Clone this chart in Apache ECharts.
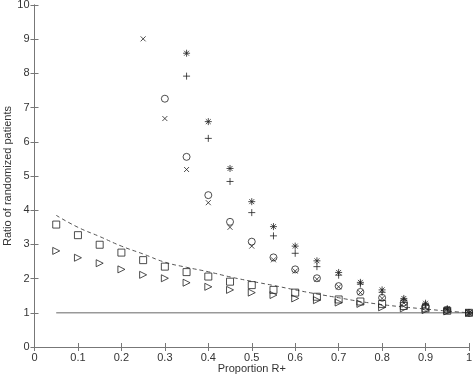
<!DOCTYPE html>
<html lang="en">
<head>
<meta charset="UTF-8">
<title>Ratio of randomized patients</title>
<script src="https://cdn.jsdelivr.net/npm/echarts@6/dist/echarts.min.js"></script>
<style>
  html, body { margin: 0; padding: 0; background: #fff; }
  #main { width: 474px; height: 377px; }
</style>
</head>
<body>
<div id="main"></div>
<script>
// proportion R+ values used by each series
const pAll = [0.05, 0.1, 0.15, 0.2, 0.25, 0.3, 0.35, 0.4, 0.45, 0.5,
              0.55, 0.6, 0.65, 0.7, 0.75, 0.8, 0.85, 0.9, 0.95, 1];
const pStar = [0.35, 0.4, 0.45, 0.5, 0.55, 0.6, 0.65, 0.7, 0.75, 0.8, 0.85, 0.9, 0.95, 1];
const pCircle = [0.3, 0.35, 0.4, 0.45, 0.5, 0.55, 0.6, 0.65, 0.7, 0.75, 0.8, 0.85, 0.9, 0.95, 1];
const pCross = [0.25, 0.3, 0.35, 0.4, 0.45, 0.5, 0.55, 0.6, 0.65, 0.7, 0.75, 0.8, 0.85, 0.9, 0.95, 1];

const starVals = [8.59, 6.59, 5.22, 4.25, 3.52, 2.95, 2.52, 2.18, 1.89, 1.67, 1.42, 1.28, 1.12, 1];
const plusVals = [7.92, 6.10, 4.84, 3.93, 3.25, 2.74, 2.35, 2.10, 1.84, 1.60, 1.37, 1.23, 1.10, 1];
const circleVals = [7.26, 5.56, 4.44, 3.66, 3.08, 2.62, 2.27, 2.01, 1.78, 1.61, 1.44, 1.30, 1.18, 1.08, 1];
const crossVals = [9.01, 6.68, 5.19, 4.22, 3.50, 2.95, 2.55, 2.22, 1.98, 1.76, 1.59, 1.42, 1.29, 1.17, 1.08, 1];
const squareVals = [3.58, 3.27, 2.99, 2.76, 2.54, 2.35, 2.19, 2.06, 1.91, 1.81,
                    1.67, 1.59, 1.47, 1.39, 1.33, 1.26, 1.20, 1.13, 1.06, 1];
const triVals = [2.81, 2.61, 2.45, 2.27, 2.11, 2.01, 1.88, 1.76, 1.67, 1.59,
                 1.52, 1.42, 1.37, 1.30, 1.26, 1.16, 1.13, 1.08, 1.04, 1];
const dashVals = [3.85, 3.50, 3.23, 2.95, 2.72, 2.48, 2.33, 2.20, 2.05, 1.92,
                  1.80, 1.67, 1.55, 1.44, 1.33, 1.24, 1.17, 1.11, 1.05, 1];
const refLine = [[0.05, 1], [1, 1]];

const xTicks = [0, 0.1, 0.2, 0.3, 0.4, 0.5, 0.6, 0.7, 0.8, 0.9, 1];
const yTicks = [0, 1, 2, 3, 4, 5, 6, 7, 8, 9, 10];

const zip = (xs, ys) => xs.map((x, i) => [x, ys[i]]);

const SYM = {
  plus: 'path://M5,0 L5,10 M0,5 L10,5',
  cross: 'path://M0,0 L10,10 M10,0 L0,10',
  star: 'path://M5,0 L5,10 M0,5 L10,5 M1.5,1.5 L8.5,8.5 M8.5,1.5 L1.5,8.5',
  triRight: 'path://M0,0 L10,5 L0,10 Z'
};

const font = 'Liberation Sans, Arial, sans-serif';
const axisCol = '#777';
const txtCol = '#333';

function marker(name, data, symbol, size) {
  return {
    name: name,
    type: 'scatter',
    data: data,
    symbol: symbol,
    symbolSize: size,
    itemStyle: { color: 'rgba(0,0,0,0)', borderColor: '#222', borderWidth: 1 },
    z: 3
  };
}

const chart = echarts.init(document.getElementById('main'));
chart.setOption({
  animation: false,
  backgroundColor: '#fff',
  grid: { left: 34.5, right: 5, top: 5, bottom: 30, containLabel: false, outerBoundsMode: 'none' },
  xAxis: [{
    type: 'value', min: 0, max: 1, interval: 0.1,
    name: 'Proportion R+', nameLocation: 'middle', nameGap: 16, nameMoveOverlap: false,
    nameTextStyle: { fontFamily: font, fontSize: 11, color: txtCol, verticalAlign: 'top' },
    axisLine: { lineStyle: { color: axisCol } },
    axisTick: { inside: true, length: 4, lineStyle: { color: axisCol } },
    axisLabel: { fontFamily: font, fontSize: 11, color: txtCol, margin: 5,
                 formatter: v => xTicks.includes(+v.toFixed(1)) ? String(+v.toFixed(1)) : '' },
    splitLine: { show: false }
  }, {
    type: 'value', min: 0, max: 1, interval: 0.1, position: 'top',
    axisLine: { show: true, lineStyle: { color: axisCol } },
    axisTick: { inside: true, length: 4, lineStyle: { color: axisCol } },
    axisLabel: { show: false }, splitLine: { show: false }
  }],
  yAxis: [{
    type: 'value', min: 0, max: 10, interval: 1,
    name: 'Ratio of randomized patients', nameLocation: 'middle', nameGap: 21, nameMoveOverlap: false,
    nameTextStyle: { fontFamily: font, fontSize: 11, color: txtCol },
    axisLine: { show: true, lineStyle: { color: axisCol } },
    axisTick: { show: true, inside: true, length: 4, lineStyle: { color: axisCol } },
    axisLabel: { fontFamily: font, fontSize: 11, color: txtCol, margin: 5,
                 formatter: v => yTicks.includes(v) ? String(v) : '' },
    splitLine: { show: false }
  }, {
    type: 'value', min: 0, max: 10, interval: 1, position: 'right',
    axisLine: { show: true, lineStyle: { color: axisCol } },
    axisTick: { show: true, inside: true, length: 4, lineStyle: { color: axisCol } },
    axisLabel: { show: false }, splitLine: { show: false }
  }],
  series: [
    {
      name: 'reference', type: 'line', data: refLine, showSymbol: false,
      lineStyle: { color: '#999', width: 1.5 }, z: 1
    },
    {
      name: 'dashed', type: 'line', data: zip(pAll, dashVals), showSymbol: false,
      smooth: true, lineStyle: { color: '#555', width: 1, type: [4, 3] }, z: 2
    },
    marker('star', zip(pStar, starVals), SYM.star, 7),
    marker('plus', zip(pStar, plusVals), SYM.plus, 7),
    marker('circle', zip(pCircle, circleVals), 'circle', 7),
    marker('cross', zip(pCross, crossVals), SYM.cross, 5),
    marker('square', zip(pAll, squareVals), 'rect', 7),
    marker('triangle', zip(pAll, triVals), SYM.triRight, 7)
  ]
});
</script>
</body>
</html>
